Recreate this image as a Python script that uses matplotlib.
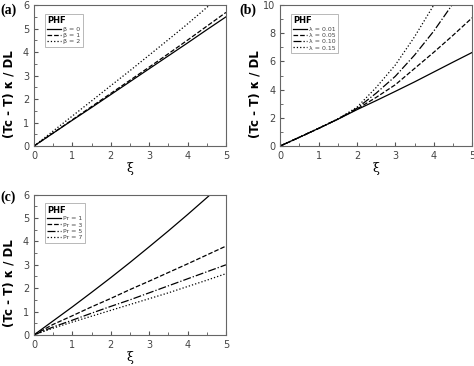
import matplotlib.pyplot as plt
from matplotlib.ticker import MultipleLocator

# Data
xi = [0, 0.5, 1, 1.5, 2, 2.5, 3, 3.5, 4, 4.5, 5]

# (a) effect of beta
beta_labels = ["β = 0", "β = 1", "β = 2"]
beta_vals = [
    [0, 0.55, 1.1, 1.64, 2.19, 2.74, 3.29, 3.84, 4.39, 4.95, 5.5],
    [0, 0.56, 1.12, 1.68, 2.24, 2.8, 3.36, 3.93, 4.51, 5.1, 5.69],
    [0, 0.64, 1.28, 1.92, 2.57, 3.21, 3.87, 4.53, 5.2, 5.9, 6.6],
]

# (b) effect of lambda
lam_labels = ["λ = 0.01", "λ = 0.05", "λ = 0.10", "λ = 0.15"]
lam_vals = [
    [0, 0.62, 1.25, 1.9, 2.58, 3.22, 3.88, 4.55, 5.25, 5.95, 6.64],
    [0, 0.62, 1.25, 1.9, 2.62, 3.45, 4.35, 5.5, 6.65, 7.85, 9.1],
    [0, 0.62, 1.25, 1.91, 2.68, 3.75, 4.95, 6.45, 8.15, 10.1, 12.2],
    [0, 0.62, 1.26, 1.92, 2.75, 4.15, 5.75, 7.75, 10.0, 12.5, 15.2],
]

# (c) effect of Prandtl number
pr_labels = ["Pr = 1", "Pr = 3", "Pr = 5", "Pr = 7"]
pr_vals = [
    [0, 0.6, 1.2, 1.82, 2.45, 3.1, 3.77, 4.45, 5.15, 5.87, 6.6],
    [0, 0.45, 0.82, 1.2, 1.56, 1.94, 2.3, 2.67, 3.04, 3.42, 3.8],
    [0, 0.34, 0.63, 0.93, 1.22, 1.5, 1.8, 2.1, 2.4, 2.7, 3.0],
    [0, 0.29, 0.55, 0.8, 1.05, 1.3, 1.55, 1.8, 2.07, 2.34, 2.62],
]

ylab = "(Tc - T) κ / DL"

fig = plt.figure(figsize=(4.74, 3.66), dpi=100)
ax_a = fig.add_axes([0.0717, 0.601, 0.405, 0.385])
ax_b = fig.add_axes([0.591, 0.601, 0.405, 0.385])
ax_c = fig.add_axes([0.0717, 0.085, 0.405, 0.383])


def setup(ax, ymax, ystep, lines, labels, styles):
    for vals, lab, ls in zip(lines, labels, styles):
        ax.plot(xi, vals, ls, color='black', lw=0.9, label=lab)
    ax.set_xlim(0, 5)
    ax.set_ylim(0, ymax)
    ax.xaxis.set_major_locator(MultipleLocator(1))
    ax.xaxis.set_minor_locator(MultipleLocator(0.5))
    ax.yaxis.set_major_locator(MultipleLocator(ystep))
    ax.yaxis.set_minor_locator(MultipleLocator(ystep / 2))
    ax.tick_params(which='both', direction='in', top=False, right=False,
                   labelsize=7, labelcolor='#444444', color='#555555')
    ax.tick_params(which='major', length=3)
    ax.tick_params(which='minor', length=2)
    for sp in ax.spines.values():
        sp.set_color('#666666')
        sp.set_linewidth(0.8)
    ax.set_ylabel(ylab, fontsize=8.5, fontweight='bold')
    ax.yaxis.set_label_coords(-0.095, 0.37)
    ax.set_xlabel("ξ", family='DejaVu Serif', fontsize=9, labelpad=1)
    leg = ax.legend(title="PHF", loc='upper left', fontsize=4.5, frameon=True,
                    fancybox=False, edgecolor='#999999', handlelength=2.2,
                    handletextpad=0.3, labelspacing=0.15, borderpad=0.4,
                    bbox_to_anchor=(0.04, 0.96))
    leg.get_frame().set_linewidth(0.6)
    for t in leg.get_texts():
        t.set_color('#444444')
    leg.get_title().set_fontweight('bold')
    leg.get_title().set_fontsize(6)
    leg._legend_box.align = 'left'


setup(ax_a, 6, 1, beta_vals, beta_labels, ['-', '--', ':'])
setup(ax_b, 10, 2, lam_vals, lam_labels, ['-', '--', '-.', ':'])
setup(ax_c, 6, 1, pr_vals, pr_labels, ['-', '--', '-.', ':'])

# panel tags
tag_style = dict(family='Liberation Serif', fontsize=10, fontweight='bold',
                 ha='left', va='center')
fig.text(0.0, 0.972, "(a)", **tag_style)
fig.text(0.505, 0.972, "(b)", **tag_style)
fig.text(0.0, 0.462, "(c)", **tag_style)

fig.savefig("out.png", dpi=100)
